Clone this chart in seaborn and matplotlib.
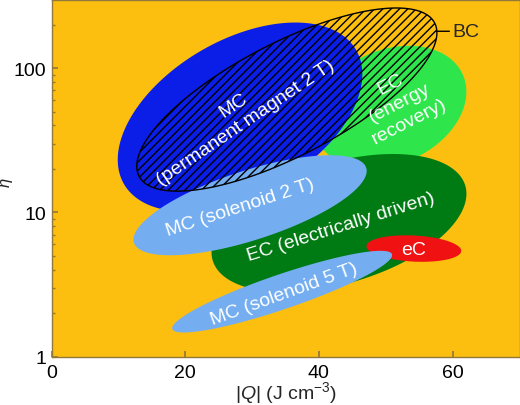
import numpy as np
import matplotlib
matplotlib.use("Agg")
import matplotlib.pyplot as plt
import seaborn as sns

# Regions: centre (|Q|, eta), width/height in |Q| units
# (height measured in the same screen scale as width), tilt in degrees
names = ["EC energy", "MC magnet", "EC driven", "MC sol 2T", "eC", "MC sol 5T", "BC"]
centre_q = [50.6, 28.2, 43.0, 29.7, 54.2, 34.5, 35.2]
centre_eta = [53.7, 45.8, 8.43, 11.2, 5.61, 2.82, 60.5]
width_q = [23.9, 40.1, 39.4, 36.5, 14.2, 34.7, 49.8]
height_q = [17.0, 23.0, 18.1, 10.4, 3.9, 5.2, 16.9]
tilt = [24, 30, 16.5, 17.9, -3, 18.8, 27.4]
colours = ["#2ee64c", "#0a1ee8", "#007a12", "#74aef0", "#f01212", "#74aef0", "none"]

# Labels inside the regions
label_text = ["MC\n(permanent magnet 2 T)", "EC\n(energy\nrecovery)", "MC (solenoid 2 T)",
              "EC (electrically driven)", "MC (solenoid 5 T)", "eC"]
label_q = [28.1, 52.1, 28.2, 43.3, 34.8, 54.1]
label_eta = [48.8, 58.1, 10.9, 7.97, 2.74, 5.57]
label_rot = [34, 27, 18, 17.5, 19.9, 0]

x_ticks = [0, 20, 40, 60]
y_ticks = [1, 10, 100]

sns.set_theme(style="ticks")
plt.rcParams["font.family"] = ["Liberation Sans", "DejaVu Sans"]
plt.rcParams["mathtext.fontset"] = "custom"
plt.rcParams["mathtext.rm"] = "Liberation Sans"
plt.rcParams["mathtext.it"] = "Liberation Sans:italic"
plt.rcParams["hatch.linewidth"] = 1.0

frame = "#94783a"

fig = plt.figure(figsize=(5.2, 4.06), dpi=100)
ax = fig.add_axes([51.5 / 520, 48.4 / 406, 468 / 520, 356.6 / 406])
ax.set_facecolor("#fcbf10")
ax.set_yscale("log")
ax.set_xlim(0, 70)
ax.set_ylim(1, 10 ** 2.472)


def ellipse_xy(cx, cy, w, h, ang):
    # build the ellipse in screen space so it stays a true ellipse on the log axis
    p = ax.transData.transform([(0, 1), (1, 1)])
    sx = p[1, 0] - p[0, 0]
    t = np.linspace(0, 2 * np.pi, 400)
    u = w / 2 * np.cos(t) * sx
    v = h / 2 * np.sin(t) * sx
    r = np.deg2rad(ang)
    c = ax.transData.transform((cx, cy))
    pts = np.column_stack([c[0] + u * np.cos(r) - v * np.sin(r),
                           c[1] + u * np.sin(r) + v * np.cos(r)])
    pts = ax.transData.inverted().transform(pts)
    return pts[:, 0], pts[:, 1]


for i, name in enumerate(names):
    ex, ey = ellipse_xy(centre_q[i], centre_eta[i], width_q[i], height_q[i], tilt[i])
    if name == "BC":
        ax.fill(ex, ey, facecolor="none", edgecolor="black", hatch="////",
                linewidth=1.0, zorder=i + 1)
    else:
        ax.fill(ex, ey, color=colours[i], linewidth=0, zorder=i + 1)

for txt, q, e, rot in zip(label_text, label_q, label_eta, label_rot):
    ax.text(q, e, txt, color="white", fontsize=14, rotation=rot, ha="center",
            va="center", linespacing=1.3, rotation_mode="anchor", zorder=20)

bc_edge = centre_q[6] + 22.4
ax.annotate("BC", xy=(bc_edge, 180), xytext=(60.0, 180), fontsize=14, va="center",
            arrowprops=dict(arrowstyle="-", color="black", lw=1.0, shrinkA=0, shrinkB=0),
            zorder=20)

ax.set_xticks(x_ticks)
ax.set_xticklabels([str(v) for v in x_ticks])
ax.set_yticks(y_ticks)
ax.set_yticklabels([str(v) for v in y_ticks])
ax.yaxis.set_minor_formatter(matplotlib.ticker.NullFormatter())
ax.tick_params(which="both", direction="in", colors=frame, labelcolor="black",
               labelsize=14)
ax.tick_params(axis="x", which="major", length=4, pad=5)
ax.tick_params(axis="y", which="major", length=4, pad=4)
ax.tick_params(axis="y", which="minor", length=2.5)
for s in ax.spines.values():
    s.set_color(frame)
    s.set_linewidth(1.0)

ax.set_xlabel(r"|$Q$| (J cm$^{-3}$)", fontsize=14, labelpad=-1)
ax.set_ylabel(r"$\eta$", fontsize=12)
ax.yaxis.set_label_coords(-0.078, 0.49)

fig.savefig("out.png", dpi=100)
